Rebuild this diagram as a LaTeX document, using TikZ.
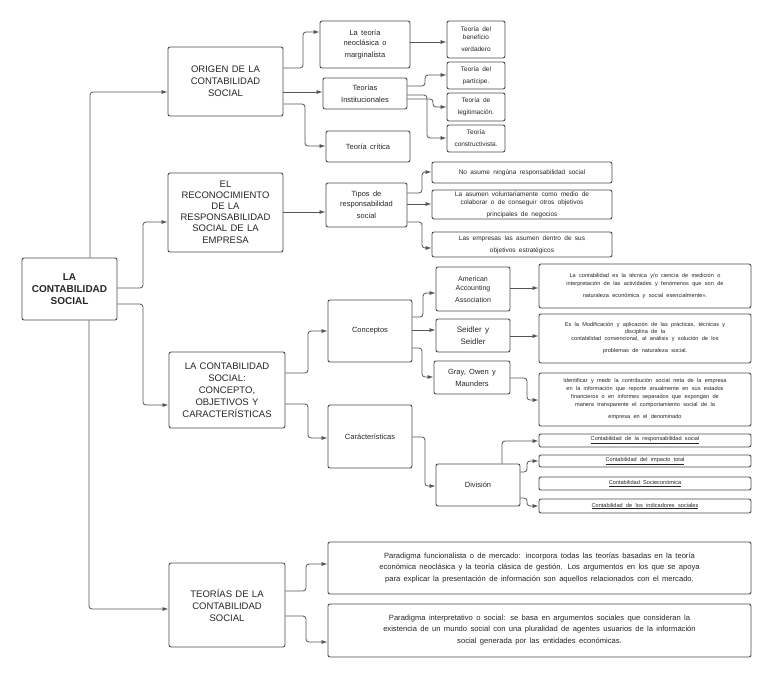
\documentclass[tikz,border=0pt]{standalone}
\usepackage{fontspec}
\setmainfont{Liberation Sans}
\usetikzlibrary{arrows.meta}
\definecolor{ln}{HTML}{555555}
\tikzset{
 box/.style={draw=ln!90!black,line width=0.9pt,rounded corners=2pt,align=center,inner sep=1pt,fill=white,text=black!85},
 arr/.style={draw=ln,line width=0.8pt,rounded corners=3pt,-{Latex[length=6pt,width=4pt]}},
}
\newcommand\bx[6]{\node[box,minimum width={#4pt-#2pt},minimum height={#5pt-#3pt},text width={#4pt-#2pt-2pt}] (#1) at ({(#2+#4)/2},{(#3+#5)/2}) {#6};}
\begin{document}
\begin{tikzpicture}[x=1pt,y=-1pt]
\useasboundingbox[fill=white] (0,0) rectangle (768,678);
\bx{root}{22}{258}{117}{320}{\fontsize{10}{12}\selectfont\bfseries LA\\CONTABILIDAD\\SOCIAL}
\bx{orig}{168}{47}{283}{116}{\fontsize{9.5}{12}\selectfont ORIGEN DE LA\\CONTABILIDAD\\SOCIAL}
\bx{neo}{320}{21}{410}{68}{\fontsize{7.5}{9.5}\selectfont La teoría\\neoclásica o\\marginalista}
\bx{inst}{323}{78}{407}{109}{\fontsize{7.5}{9.5}\selectfont Teorías\\Institucionales}
\bx{crit}{326}{131}{410}{162}{\fontsize{7.5}{9.5}\selectfont Teoría crítica}
\bx{ben}{447}{21}{505}{58}{\fontsize{6.5}{8}\selectfont Teoría del\\beneficio\\verdadero}
\bx{par}{447}{62}{505}{89}{\fontsize{6.5}{8}\selectfont Teoría del\\partícipe.}
\bx{leg}{447}{93}{505}{121}{\fontsize{6.5}{8}\selectfont Teoría de\\legitimación.}
\bx{con}{447}{125}{505}{152}{\fontsize{6.5}{8}\selectfont Teoría\\constructivista.}
\bx{rec}{168}{173}{283}{252}{\fontsize{9.5}{11}\selectfont EL\\RECONOCIMIENTO\\DE LA\\RESPONSABILIDAD\\SOCIAL DE LA\\EMPRESA}
\bx{tipos}{326}{183}{407}{227}{\fontsize{7.5}{9.5}\selectfont Tipos de\\responsabilidad\\social}
\bx{no}{432}{162}{612}{183}{\fontsize{6.5}{8}\selectfont No asume ningúna responsabilidad social}
\bx{vol}{432}{190}{612}{219}{\fontsize{6.5}{7.8}\selectfont La asumen voluntariamente como medio de\\colaborar o de conseguir otros objetivos\\principales de negocios}
\bx{emp}{432}{232}{612}{257}{\fontsize{6.5}{8.5}\selectfont Las empresas las asumen dentro de sus\\objetivos estratégicos}
\bx{cs}{169}{352}{285}{428}{\fontsize{9.5}{12}\selectfont LA CONTABILIDAD\\SOCIAL:\\CONCEPTO,\\OBJETIVOS Y\\CARACTERÍSTICAS}
\bx{conc}{328}{300}{412}{362}{\fontsize{7.5}{9.5}\selectfont Conceptos}
\bx{car}{328}{405}{412}{468}{\fontsize{7.5}{9.5}\selectfont Carácterísticas}
\bx{aaa}{436}{267}{510}{311}{\fontsize{7}{9}\selectfont American\\Accounting\\Association}
\bx{sei}{436}{319}{510}{352}{\fontsize{8}{10}\selectfont Seidler y\\Seidler}
\bx{gray}{434}{361}{510}{394}{\fontsize{7.5}{10}\selectfont Gray, Owen y\\Maunders}
\bx{taaa}{539}{264}{751}{308}{\fontsize{5.6}{8}\selectfont La contabilidad es la técnica y/o ciencia de medición o\\interpretación de las actividades y fenómenos que son de\\naturaleza económica y social esencialmente».}
\bx{tsei}{539}{314}{751}{363}{\fontsize{5.6}{7}\selectfont Es la Modificación y aplicación de las prácticas, técnicas y\\disciplina de la\\contabilidad convencional, al análisis y solución de los\\problemas de naturaleza social.}
\bx{tgray}{539}{373}{751}{426}{\fontsize{5.6}{8}\selectfont Identificar y medir la contribución social neta de la empresa\\en la información que reporte anualmente en sus estados\\financieros o en informes separados que expongan de\\manera transparente el comportamiento social de la\\empresa en el denominado}
\bx{div}{436}{464}{520}{506}{\fontsize{7.5}{9.5}\selectfont División}
\bx{d1}{539}{434}{751}{447}{\fontsize{5.6}{6}\selectfont \underline{Contabilidad de la responsabilidad social}}
\bx{d2}{539}{455}{751}{467}{\fontsize{5.6}{6}\selectfont \underline{Contabilidad del impacto total}}
\bx{d3}{539}{477}{751}{490}{\fontsize{5.6}{6}\selectfont \underline{Contabilidad Socieconómica}}
\bx{d4}{539}{499}{751}{513}{\fontsize{5.6}{6}\selectfont \underline{Contabilidad de los indicadores sociales}}
\bx{teo}{169}{563}{285}{647}{\fontsize{9.5}{12}\selectfont TEORÍAS DE LA\\CONTABILIDAD\\SOCIAL}
\bx{p1}{328}{542}{751}{594}{\fontsize{7.6}{11}\selectfont Paradigma funcionalista o de mercado: incorpora todas las teorías basadas en la teoría\\económica neoclásica y la teoría clásica de gestión. Los argumentos en los que se apoya\\para explicar la presentación de información son aquellos relacionados con el mercado.}
\bx{p2}{328}{604}{751}{657}{\fontsize{7.6}{11}\selectfont Paradigma interpretativo o social: se basa en argumentos sociales que consideran la\\existencia de un mundo social con una pluralidad de agentes usuarios de la información\\social generada por las entidades económicas.}
% root
\draw[arr] (root.north -| 90,0) -- (90,92) -- (orig.west |- 0,92);
\draw[arr] (root.east |- 0,288) -- (143,288) -- (143,222) -- (rec.west |- 0,222);
\draw[arr] (root.east |- 0,304) -- (143,304) -- (143,405) -- (cs.west |- 0,405);
\draw[arr] (root.south -| 89,0) -- (89,609) -- (teo.west |- 0,609);
% origen
\draw[arr] (orig.east |- 0,68) -- (303,68) -- (303,32) -- (neo.west |- 0,32);
\draw[arr] (orig.east |- 0,92) -- (inst.west |- 0,92);
\draw[arr] (orig.east |- 0,104) -- (305,104) -- (305,146) -- (crit.west |- 0,146);
\draw[arr] (neo.east |- 0,42) -- (ben.west |- 0,42);
\draw[arr] (inst.east |- 0,86) -- (425,86) -- (425,75) -- (par.west |- 0,75);
\draw[arr] (inst.east |- 0,99) -- (433,99) -- (433,107) -- (leg.west |- 0,107);
\draw[arr] (inst.east |- 0,95) -- (427,95) -- (427,138) -- (con.west |- 0,138);
% rec
\draw[arr] (rec.east |- 0,212) -- (tipos.west |- 0,212);
\draw[arr] (tipos.east |- 0,193) -- (422,193) -- (422,172) -- (no.west |- 0,172);
\draw[arr] (tipos.east |- 0,204) -- (vol.west |- 0,204);
\draw[arr] (tipos.east |- 0,222) -- (422,222) -- (422,248) -- (emp.west |- 0,248);
% cs
\draw[arr] (cs.east |- 0,373) -- (308,373) -- (308,331) -- (conc.west |- 0,331);
\draw[arr] (cs.east |- 0,404) -- (308,404) -- (308,438) -- (car.west |- 0,438);
\draw[arr] (conc.east |- 0,317) -- (423,317) -- (423,293) -- (aaa.west |- 0,293);
\draw[arr] (conc.east |- 0,330) -- (sei.west |- 0,330);
\draw[arr] (conc.east |- 0,348) -- (422,348) -- (422,377) -- (gray.west |- 0,377);
\draw[arr] (aaa.east |- 0,288) -- (taaa.west |- 0,288);
\draw[arr] (sei.east |- 0,336) -- (tsei.west |- 0,336);
\draw[arr] (gray.east |- 0,378) -- (527,378) -- (527,400) -- (tgray.west |- 0,400);
\draw[arr] (car.east |- 0,437) -- (425,437) -- (425,486) -- (div.west |- 0,486);
\draw[arr] (div.north -| 502,0) -- (502,441) -- (d1.west |- 0,441);
\draw[arr] (div.east |- 0,472) -- (527,472) -- (527,461) -- (d2.west |- 0,461);
\draw[arr] (div.east |- 0,498) -- (527,498) -- (527,506) -- (d4.west |- 0,506);
% teo
\draw[arr] (teo.east |- 0,591) -- (306,591) -- (306,564) -- (p1.west |- 0,564);
\draw[arr] (teo.east |- 0,616) -- (306,616) -- (306,642) -- (p2.west |- 0,642);
\end{tikzpicture}
\end{document}
